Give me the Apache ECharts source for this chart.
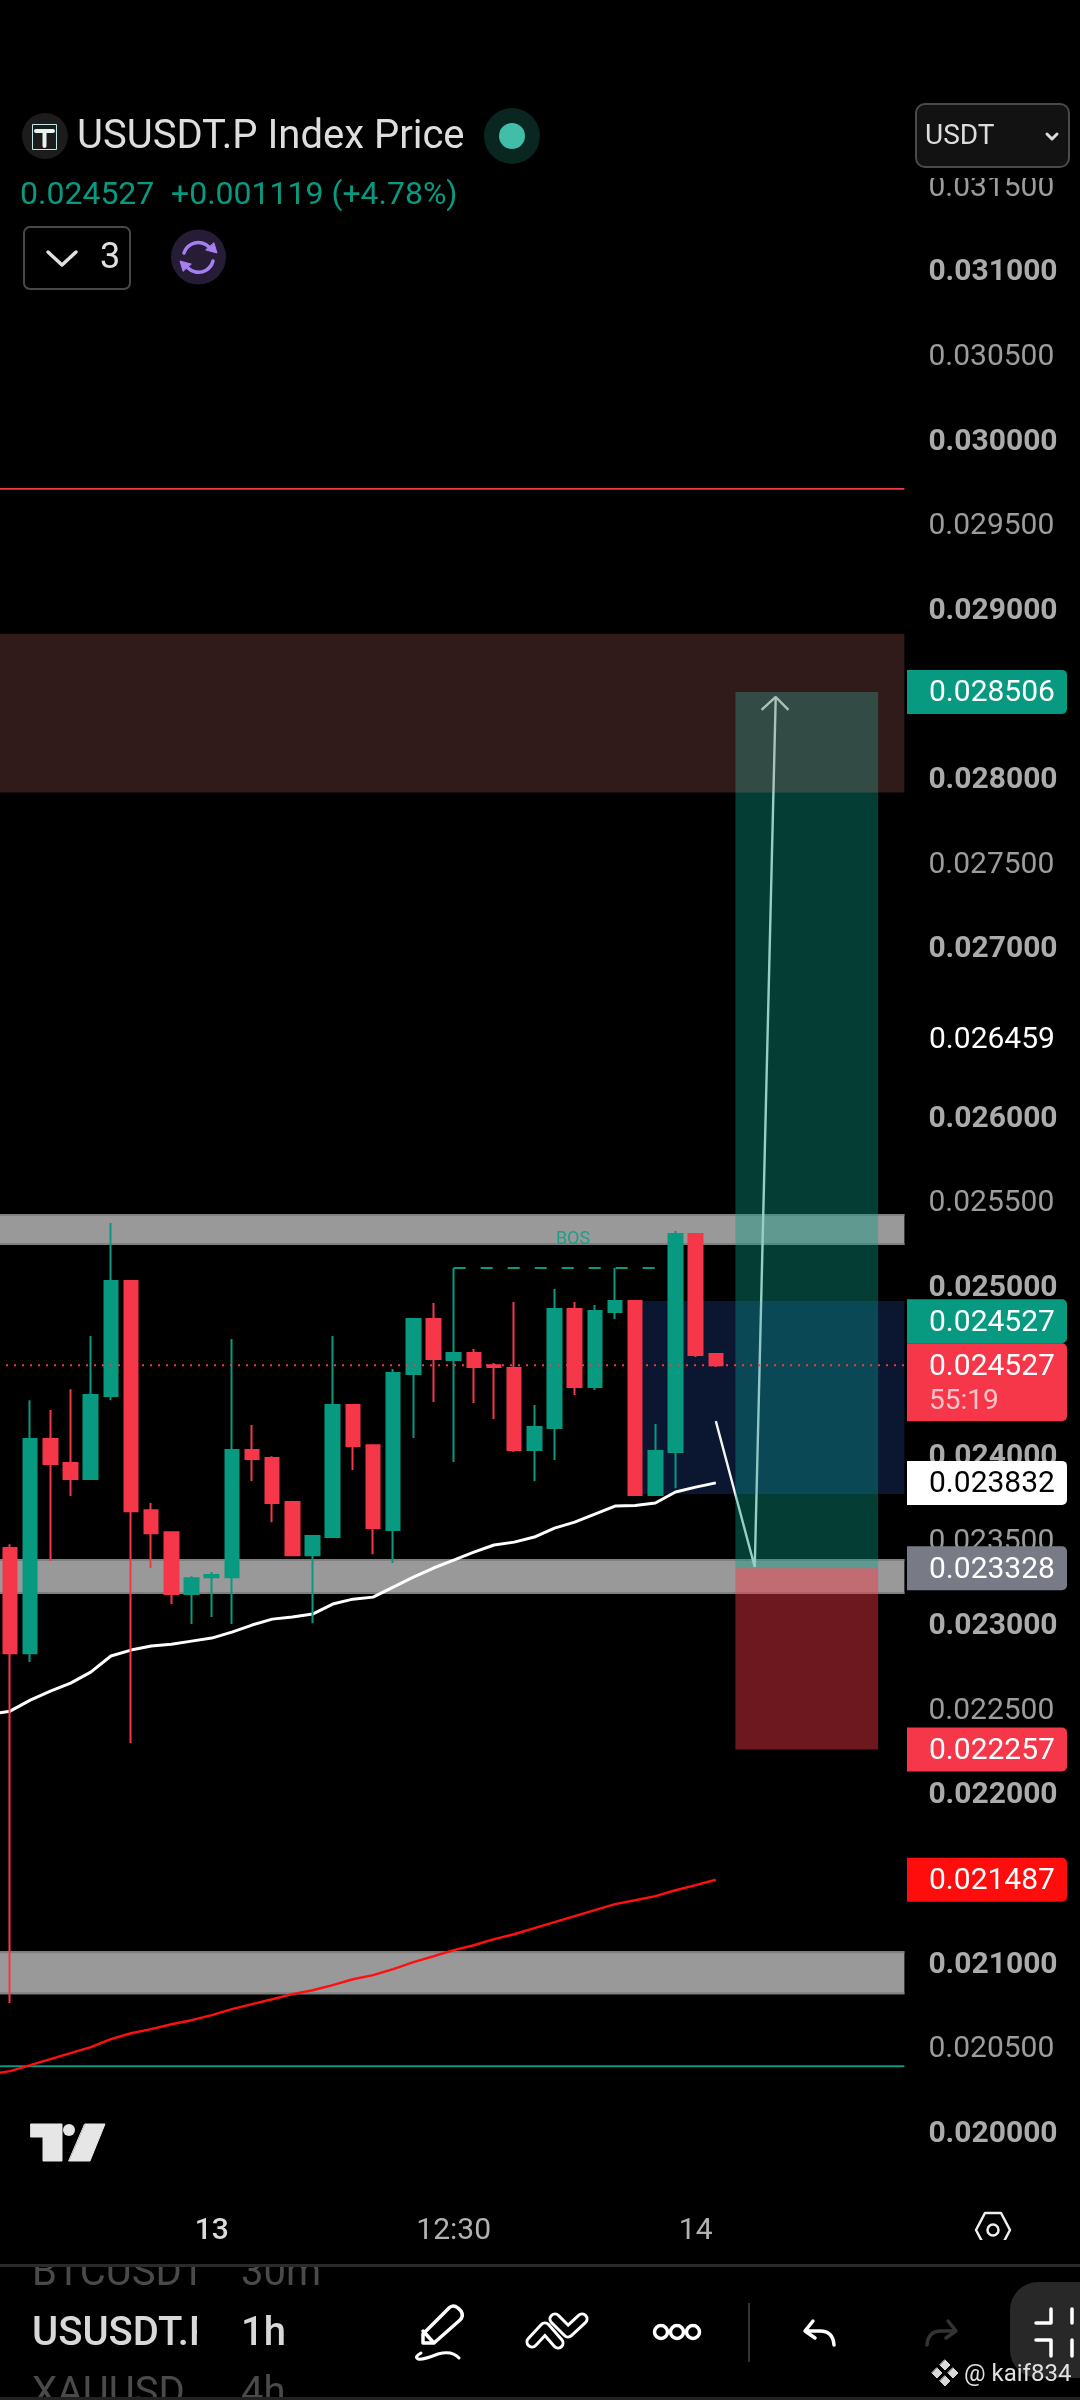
<!DOCTYPE html>
<html><head><meta charset="utf-8">
<style>html,body{margin:0;padding:0;background:#000}#c{width:1080px;height:2400px}</style>
<script src="https://cdn.jsdelivr.net/npm/echarts@6/dist/echarts.min.js"></script>
</head><body><div id="c"></div>
<script>
// ---------- DATA ----------
const timeLabels = {10:'13',22:'12:30',34:'14'};
const categoryCount = 45;
const candleOpen  = [0.023447,0.022826,0.024091,0.023949,0.023855,0.024345,0.025025,0.023671,0.023541,0.023175,0.023275,0.023275,0.024026,0.023979,0.023719,0.023405,0.023512,0.024292,0.024055,0.023553,0.024475,0.024800,0.024558,0.024599,0.024527,0.024511,0.024026,0.024156,0.024859,0.024398,0.024842,0.024907,0.023760,0.024014,0.025303,0.024593];
const candleClose = [0.022826,0.024091,0.023943,0.023855,0.024351,0.025025,0.023665,0.023535,0.023175,0.023269,0.023287,0.024026,0.023973,0.023713,0.023405,0.023518,0.024292,0.024050,0.023565,0.024481,0.024800,0.024564,0.024599,0.024517,0.024517,0.024026,0.024162,0.024859,0.024398,0.024847,0.024907,0.023760,0.024020,0.025303,0.024587,0.024527];
const candleLow   = [0.020758,0.022773,0.023370,0.023754,0.023855,0.024321,0.022294,0.023329,0.023116,0.022998,0.023039,0.022998,0.023843,0.023600,0.023399,0.023003,0.023512,0.023908,0.023411,0.023358,0.024097,0.024310,0.023955,0.024304,0.024209,0.024014,0.023843,0.023967,0.024351,0.024381,0.024800,0.023760,0.023760,0.023801,0.024576,0.024517];
const candleHigh  = [0.023470,0.024321,0.024262,0.024386,0.024700,0.025368,0.025025,0.023713,0.023541,0.023281,0.023305,0.024682,0.024174,0.023990,0.023725,0.023518,0.024700,0.024292,0.024055,0.024505,0.024800,0.024895,0.025102,0.024623,0.024540,0.024901,0.024292,0.024977,0.024901,0.024883,0.025102,0.024907,0.024180,0.025320,0.025303,0.024593];
const maBars = [-0.6,0,1,2,3,4,5,6,7,8,9,10,11,12,13,14,15,16,17,18,19,20,21,22,23,24,25,26,27,28,29,30,31,32,33,34,35];
const maWhite = [0.022472,0.022483,0.022548,0.022602,0.022649,0.022714,0.022809,0.022844,0.022868,0.022879,0.022897,0.022915,0.022950,0.022992,0.023027,0.023039,0.023057,0.023116,0.023145,0.023157,0.023216,0.023275,0.023329,0.023376,0.023423,0.023465,0.023482,0.023512,0.023565,0.023600,0.023648,0.023695,0.023698,0.023713,0.023778,0.023807,0.023832];
const maRed = [0.020344,0.020356,0.020391,0.020427,0.020462,0.020498,0.020545,0.020580,0.020604,0.020633,0.020657,0.020687,0.020722,0.020752,0.020781,0.020811,0.020834,0.020864,0.020899,0.020923,0.020959,0.021000,0.021035,0.021071,0.021100,0.021136,0.021165,0.021201,0.021236,0.021272,0.021307,0.021343,0.021366,0.021390,0.021425,0.021455,0.021487];
const boldTicks = ['0.031000','0.030000','0.029000','0.028000','0.027000','0.026000','0.025000','0.024000','0.023000','0.022000','0.021000','0.020000'];
const lightTicks = ['0.031500','0.030500','0.029500','0.028500','0.027500','0.025500','0.024500','0.023500','0.022500','0.021500','0.020500'];
const lastPrice = 0.024527;
const targetPrice = 0.028506;
const entryPrice = 0.023328;
const stopPrice = 0.022257;
const ma50Price = 0.023832;
const ma200Price = 0.021487;
const hoverPrice = 0.026459;
const grayBands = [[0.025421,0.025238],[0.023382,0.023175],[0.021065,0.020811]];
const brownZone = [0.028850,0.027912];
const blueZone = [0.024907,0.023766];
const topLinePrice = 0.029706;
const lowLinePrice = 0.020385;
const bosPrice = 0.025102;
const bosBars = [22,32.15];
const arrowBars = [35,36.93,37.97];
const arrowPrices = [0.024197,0.023335,0.028476];
const arrowHeadBars = [37.27,37.97,38.6];
const arrowHeadPrices = [0.028400,0.028476,0.028400];
const rrBars = [35.97,43.05];
const blueLeftBar = 31;
const plotRightBar = 44.35;
const plotLeftBar = -0.6;

// ---------- STYLE ----------
const UP='#089981', DOWN='#f53749', FONT='Roboto';
const rawRows = candleOpen.map((o,i)=>[o,candleClose[i],candleLow[i],candleHigh[i]]);
const cats = Array.from({length:categoryCount},(_,i)=>timeLabels[i]||'');

function rectSeries(bars,prices,color,z,edge){
  return {type:'custom',xAxisIndex:1,yAxisIndex:0,z,silent:true,clip:false,data:[[bars[0],bars[1],prices[0],prices[1]]],
    encode:{x:[0,1],y:[2,3]},
    renderItem(p,api){
      const a=api.coord([api.value(0),api.value(2)]), b=api.coord([api.value(1),api.value(3)]);
      const kids=[{type:'rect',shape:{x:a[0],y:a[1],width:b[0]-a[0],height:b[1]-a[1]},style:{fill:color}}];
      if(edge){
        kids.push({type:'rect',shape:{x:a[0],y:a[1],width:b[0]-a[0],height:2},style:{fill:edge}});
        kids.push({type:'rect',shape:{x:a[0],y:b[1]-2,width:b[0]-a[0],height:2},style:{fill:edge}});
      }
      return {type:'group',children:kids};
    }};
}
function lineSeries(bars,prices,color,width,z,dash){
  return {type:'line',xAxisIndex:1,yAxisIndex:0,z,silent:true,symbol:'none',clip:false,animation:false,
    data:bars.map((b,i)=>[b,prices[i]]),lineStyle:{color,width,type:dash||'solid',cap:'butt'}};
}
const tagDefs=[
 {v:targetPrice,bg:UP,fg:'#fff'},
 {v:stopPrice,bg:DOWN,fg:'#fff'},
 {v:ma200Price,bg:'#ff0d0d',fg:'#fff'},
 {v:entryPrice,bg:'#787b86',fg:'#fff'},
 {v:ma50Price,bg:'#ffffff',fg:'#000'},
 {v:lastPrice,bg:UP,fg:'#fff',shift:-44},
 {v:lastPrice,bg:DOWN,fg:'#fff',tall:true,count:'55:19'}
];
const tagSeries={type:'custom',xAxisIndex:1,yAxisIndex:0,z:30,silent:true,clip:false,
  data:tagDefs.map((t,i)=>[0,t.v,i]),encode:{x:0,y:1},
  renderItem(p,api){
    const t=tagDefs[api.value(2)], yc=api.coord([0,api.value(1)])[1]+(t.shift||0);
    const top=yc-22, h=t.tall?78:44;
    const kids=[{type:'rect',shape:{x:907,y:top,width:160,height:h,r:[0,5,5,0]},style:{fill:t.bg}},
      {type:'text',style:{x:929,y:yc+2,text:t.v.toFixed(6),font:'30px '+FONT,fill:t.fg,verticalAlign:'middle',align:'left'}}];
    if(t.count)kids.push({type:'text',style:{x:929,y:yc+37,text:t.count,font:'28px '+FONT,fill:'#ffc4ca',verticalAlign:'middle',align:'left'}});
    return {type:'group',children:kids};
  }};
const hoverLabel={type:'custom',xAxisIndex:1,yAxisIndex:0,z:30,silent:true,clip:false,data:[[0,hoverPrice]],encode:{x:0,y:1},
  renderItem(p,api){const yc=api.coord([0,api.value(1)])[1];
    return {type:'text',style:{x:929,y:yc+2,text:hoverPrice.toFixed(6),font:'30px '+FONT,fill:'#fff',verticalAlign:'middle',align:'left'}};}};
const bosLabel={type:'custom',xAxisIndex:1,yAxisIndex:0,z:12,silent:true,clip:false,data:[[(bosBars[0]+bosBars[1])/2,bosPrice]],encode:{x:0,y:1},
  renderItem(p,api){const c=api.coord([api.value(0),api.value(1)]);
    return {type:'text',style:{x:c[0]+17,y:c[1]-28,text:'BOS',font:'18px '+FONT,fill:'#1f9e8a',align:'center',verticalAlign:'middle'}};}};

let pathCount=0;
const option={
  backgroundColor:'#000',animation:false,
  grid:{left:-1.6,width:909,top:16,height:2200,containLabel:false},
  xAxis:[
   {type:'category',data:cats,boundaryGap:true,axisLine:{show:false},axisTick:{show:false},splitLine:{show:false},
    axisLabel:{show:true,interval:0,margin:0,hideOverlap:false,formatter:v=>v==='13'?'{b|13}':(v?'{l|'+v+'}':''),
      rich:{b:{fontFamily:FONT,fontSize:30,fontWeight:500,color:'#dcdcdc'},l:{fontFamily:FONT,fontSize:30,color:'#b2b2b2'}}}},
   {type:'value',min:-0.5,max:44.5,show:false}
  ],
  yAxis:{type:'value',min:0.0195,max:0.0325,interval:0.0005,position:'right',splitLine:{show:false},axisLine:{show:false},axisTick:{show:false},
    axisLabel:{margin:21,align:'left',hideOverlap:false,showMinLabel:false,showMaxLabel:false,
      formatter(v){const k=v.toFixed(6);return boldTicks.includes(k)?'{b|'+k+'}':(lightTicks.includes(k)?'{l|'+k+'}':'');},
      rich:{b:{fontFamily:FONT,fontSize:30,fontWeight:'bold',color:'#ababab',padding:[6,0,0,0]},l:{fontFamily:FONT,fontSize:30,color:'#9c9c9c',padding:[6,0,0,0]}}}},
  series:[
    ...grayBands.map(b=>rectSeries([plotLeftBar,plotRightBar],b,'#999999',2,'#808080')),
    rectSeries([blueLeftBar,plotRightBar],blueZone,'#0b1730',3),
    lineSeries([plotLeftBar,plotRightBar],[topLinePrice,topLinePrice],DOWN,1.6,4),
    lineSeries([plotLeftBar,plotRightBar],[lowLinePrice,lowLinePrice],UP,2,4),
    lineSeries(arrowBars,arrowPrices,'#f4f4f4',2.4,5),
    lineSeries(arrowHeadBars,arrowHeadPrices,'#f4f4f4',2.4,5),
    lineSeries(maBars,maWhite,'#ffffff',3,6),
    lineSeries(maBars,maRed,'#ff1010',2.4,6),
    lineSeries(bosBars,[bosPrice,bosPrice],UP,2,7,[12,15]),
    {type:'candlestick',xAxisIndex:0,yAxisIndex:0,z:8,silent:true,data:rawRows,barWidth:14,clip:false,
      itemStyle:{color:UP,color0:DOWN,borderColor:UP,borderColor0:DOWN,borderWidth:2}},
    rectSeries(rrBars,[targetPrice,entryPrice],'rgba(8,153,129,0.4)',10),
    rectSeries(rrBars,[entryPrice,stopPrice],'rgba(242,54,69,0.45)',10),
    rectSeries(rrBars,blueZone,'rgba(30,40,220,0.05)',10.2),
    rectSeries([plotLeftBar,plotRightBar],brownZone,'rgba(255,137,137,0.19)',10.5),
    lineSeries([plotLeftBar,plotRightBar],[lastPrice,lastPrice],DOWN,2,11,[2,6]),
    bosLabel,tagSeries,hoverLabel
  ],
  graphic:{elements:(function(){
    const Z=100, E=[];
    const txt=(x,y,text,font,fill,o)=>E.push({type:'text',z:Z+((o&&o.dz)||0),silent:true,style:{x,y,text,font:font+' '+FONT,fill,verticalAlign:'middle',align:'left'}});
    const path=(d,stroke,lw,fill,dz)=>{
      const name='pth'+(pathCount++);
      echarts.graphic.registerShape(name,echarts.graphic.extendPath(d,{}));
      E.push({type:name,z:Z+(dz||0),silent:true,style:{stroke:stroke||null,lineWidth:lw||0,fill:fill||null,lineCap:'round',lineJoin:'round'}});
    };
    const rect=(x,y,w,h,fill,r,stroke,lw,dz)=>E.push({type:'rect',z:Z+(dz||0),silent:true,shape:{x,y,width:w,height:h,r:r||0},style:{fill,stroke:stroke||null,lineWidth:lw||0}});
    const circ=(cx,cy,r,fill,stroke,lw,dz)=>E.push({type:'circle',z:Z+(dz||0),silent:true,shape:{cx,cy,r},style:{fill:fill||null,stroke:stroke||null,lineWidth:lw||0}});
    // mask above the price scale
    E.push({type:'rect',z:20,silent:true,shape:{x:906,y:0,width:174,height:178},style:{fill:'#000'}});
    // currency box
    rect(916,104,153,63,'#121212',9,'#4a4a4a',2);
    txt(925,137,'USDT','28px','#dcdcdc');
    path('M1047 134 L1052 139 L1057 134','#dcdcdc',3);
    // header
    circ(45,136,23,'#1c1c1c');
    rect(32.5,124.5,24,25,'none',0,'#c8e8e8',1);
    path('M36 131 H53 M44.5 131 V146','#e8f4f0',4);
    txt(77,138,'USUSDT.P Index Price','40px','#dedede');
    circ(512,136,28,'#0a2620');
    circ(512,136,13,'#42bda8');
    txt(20,196,'0.024527','32px',UP);
    txt(171,196,'+0.001119 (+4.78%)','32px',UP);
    rect(24,227,106,62,'#000',6,'#484848',2);
    path('M48 252 L62 265 L76 252','#e0e0e0',3.5);
    txt(100,259,'3','36px','#e0e0e0');
    circ(198.5,257,27.5,'#261c36');
    path('M184 253 A15 15 0 0 1 209 247 M213 261 A15 15 0 0 1 188 268','#a67ff2',3.5);
    path('M206 250 L217 253 L214 243 Z M191 264 L180 261 L183 271 Z','#a67ff2',1,'#a67ff2');
    // TradingView logo
    path('M31 2124 H62 V2161 H43 V2137 H31 Z','#e6e6e6',1,'#e6e6e6');
    circ(69,2130,6,'#e6e6e6');
    path('M85 2124 H105 L90 2161 H69 Z','#e6e6e6',1,'#e6e6e6');
    // settings hexagon
    path('M985 2213 H1001 L1010 2230 L1001 2247 H985 L976 2230 Z','#f0f0f0',2.5);
    circ(993,2230,5.5,null,'#f0f0f0',2.5);
    // bottom rows
    txt(32,2275,'BTCUSDT.P','40px','#4a4a4a');
    txt(241,2275,'30m','40px','#4a4a4a');
    txt(32,2335,'USUSDT.P','500 40px','#d8d8d8');
    txt(241,2335,'1h','500 40px','#d8d8d8');
    txt(32,2395,'XAUUSD','40px','#4a4a4a');
    txt(241,2395,'4h','40px','#4a4a4a');
    rect(197,2266,40,131,'#000',0,null,0,1);
    rect(0,2240,1080,25,'#000',0,null,0,1);
    rect(0,2264,1080,3,'#2a2a2a',0,null,0,2);
    rect(0,2397,1080,3,'#222222',0,null,0,2);
    // toolbar icons
    path('M423 2334 L449 2308 Q453 2304 458 2308 L461 2311 Q464 2316 460 2320 L434 2343 H423 Z M423 2331 L434 2343','#fff',3.5);
    path('M421 2353 Q414 2357 418 2359 Q423 2360 438 2354 Q452 2350 459 2358','#fff',3);
    const rib='M532 2342 L545 2328 L558 2343 M555 2319 L568 2332 L582 2319';
    path(rib,'#fff',13);
    path(rib,'#000',7,null,1);
    [661,677,693].forEach(x=>circ(x,2332,6.5,null,'#fff',3.5));
    rect(748,2303,2,59,'#333333');
    path('M813 2321 L805 2331 L815 2338 M806 2331 H820 Q833 2331 834 2345','#fff',3.5);
    path('M948 2321 L956 2331 L946 2338 M955 2331 H941 Q928 2331 927 2345','#333333',3.5);
    rect(1010,2282,100,96,'#282828',28);
    path('M1036 2323 H1051 V2309 M1036 2340 H1051 V2356 M1072 2309 V2323 M1072 2356 V2340','#fff',3.5,null,1);
    // watermark
    path('M945 2360 L950 2365 L945 2370 L940 2365 Z M945 2376 L950 2381 L945 2386 L940 2381 Z M937 2368 L942 2373 L937 2378 L932 2373 Z M953 2368 L958 2373 L953 2378 L948 2373 Z','#d8d8d8',1,'#d8d8d8',3);
    txt(964,2375,'@ kaif834','24px','#e0e0e0',{dz:3});
    return E;
  })()}
};
const chart=echarts.init(document.getElementById('c'),null,{renderer:'canvas',width:1080,height:2400});
chart.setOption(option);
</script></body></html>
